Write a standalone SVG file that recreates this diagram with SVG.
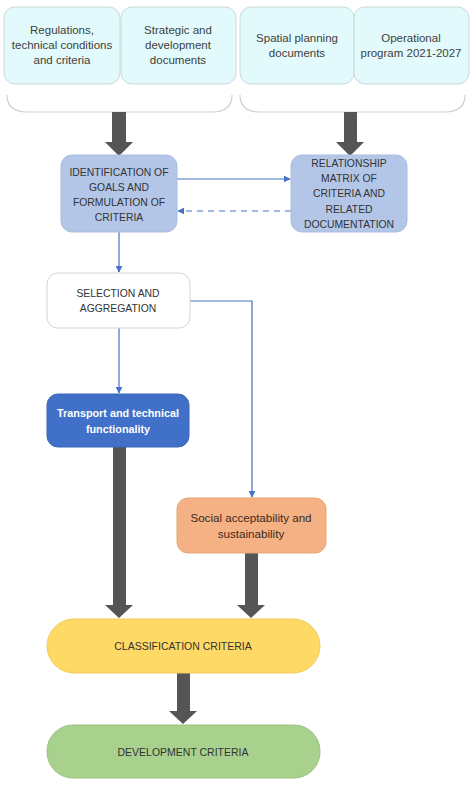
<svg xmlns="http://www.w3.org/2000/svg" width="474" height="786" viewBox="0 0 474 786">
<defs>
<style>
text{font-family:"Liberation Sans",Arial,sans-serif;text-anchor:middle}
.src{fill:#e2fafb;stroke:#c9d9dc;stroke-width:1}
.src-t{font-size:11.5px;fill:#404040}
.brk{fill:none;stroke:#d0d0d0;stroke-width:1.2}
.blue{fill:#b3c6e8;stroke:#a9bde0;stroke-width:1}
.cap{font-size:10.4px;fill:#333}
.thin{stroke:#4472c4;stroke-width:1.2;fill:none}
.big{fill:#555555}
</style>
<marker id="ah" viewBox="0 0 10 10" refX="9" refY="5" markerWidth="7" markerHeight="7" orient="auto" markerUnits="userSpaceOnUse">
<path d="M0,0 L10,5 L0,10 z" fill="#4472c4"/>
</marker>
</defs>
<rect width="474" height="786" fill="#ffffff"/>

<g id="brackets">
<path class="brk" d="M7,95 Q7,112 27,112 L212,112 Q232,112 232,95"/>
<path class="brk" d="M240,95 Q240,112 260,112 L445,112 Q465,112 465,95"/>
</g>

<g id="n-regulations">
<rect class="src" x="4" y="7" width="116" height="77" rx="11"/>
<text class="src-t" x="62" y="34">Regulations,</text>
<text class="src-t" x="62" y="49">technical conditions</text>
<text class="src-t" x="62" y="64">and criteria</text>
</g>
<g id="n-strategic">
<rect class="src" x="121" y="7" width="115" height="77" rx="11"/>
<text class="src-t" x="178" y="34">Strategic and</text>
<text class="src-t" x="178" y="49">development</text>
<text class="src-t" x="178" y="64">documents</text>
</g>
<g id="n-spatial">
<rect class="src" x="240" y="7" width="114" height="77" rx="11"/>
<text class="src-t" x="297" y="42">Spatial planning</text>
<text class="src-t" x="297" y="57">documents</text>
</g>
<g id="n-operational">
<rect class="src" x="354" y="7" width="115" height="77" rx="11"/>
<text class="src-t" x="411" y="42">Operational</text>
<text class="src-t" x="411" y="57">program 2021-2027</text>
</g>

<g id="connectors">
<path class="big" d="M112,112 H126 V142 H133 L119,156 L105,142 H112 Z"/>
<path class="big" d="M344,112 H357 V142 H364 L350,156 L336,142 H344 Z"/>
<line class="thin" x1="177" y1="179" x2="290" y2="179" marker-end="url(#ah)"/>
<line class="thin" x1="291" y1="211" x2="178" y2="211" stroke-dasharray="6,5" marker-end="url(#ah)"/>
<line class="thin" x1="119" y1="232" x2="119" y2="272" marker-end="url(#ah)"/>
<polyline class="thin" points="190,301 252,301 252,497" marker-end="url(#ah)"/>
<line class="thin" x1="119" y1="328" x2="119" y2="393" marker-end="url(#ah)"/>
<path class="big" d="M113,447 H126 V605 H133 L119,618 L105,605 H113 Z"/>
<path class="big" d="M245,553 H258 V605 H265 L251,618 L237,605 H245 Z"/>
<path class="big" d="M177,673 H190 V711 H197 L183,724 L169,711 H177 Z"/>
</g>

<g id="n-identification">
<rect class="blue" x="61" y="155" width="116" height="77" rx="11"/>
<text class="cap" x="119" y="176">IDENTIFICATION OF</text>
<text class="cap" x="119" y="191">GOALS AND</text>
<text class="cap" x="119" y="206">FORMULATION OF</text>
<text class="cap" x="119" y="221">CRITERIA</text>
</g>
<g id="n-matrix">
<rect class="blue" x="291" y="155" width="116" height="77" rx="11"/>
<text class="cap" x="349" y="167">RELATIONSHIP</text>
<text class="cap" x="349" y="182">MATRIX OF</text>
<text class="cap" x="349" y="197">CRITERIA AND</text>
<text class="cap" x="349" y="213">RELATED</text>
<text class="cap" x="349" y="228">DOCUMENTATION</text>
</g>
<g id="n-selection">
<rect x="47" y="273" width="143" height="55" rx="11" fill="#ffffff" stroke="#d4d4d4" stroke-width="1"/>
<text class="cap" x="118" y="297">SELECTION AND</text>
<text class="cap" x="118" y="312">AGGREGATION</text>
</g>
<g id="n-transport">
<rect x="47" y="394" width="142" height="53" rx="11" fill="#4070c8" stroke="#3a66b8" stroke-width="1"/>
<text x="118" y="417" font-size="10.8" font-weight="bold" fill="#ffffff">Transport and technical</text>
<text x="118" y="433" font-size="10.8" font-weight="bold" fill="#ffffff">functionality</text>
</g>
<g id="n-social">
<rect x="177" y="498" width="149" height="55" rx="11" fill="#f4b183" stroke="#e8a676" stroke-width="1"/>
<text x="251" y="522" font-size="11.6" fill="#3a2a20">Social acceptability and</text>
<text x="251" y="538" font-size="11.6" fill="#3a2a20">sustainability</text>
</g>
<g id="n-classification">
<rect x="47" y="619" width="273" height="54" rx="27" fill="#ffd966" stroke="#f0cc5a" stroke-width="1"/>
<text x="183" y="650" font-size="10.5" fill="#333">CLASSIFICATION CRITERIA</text>
</g>
<g id="n-development">
<rect x="47" y="725" width="273" height="53" rx="26" fill="#a9d18e" stroke="#9cc480" stroke-width="1"/>
<text x="183" y="756" font-size="10.5" fill="#333">DEVELOPMENT CRITERIA</text>
</g>
</svg>
